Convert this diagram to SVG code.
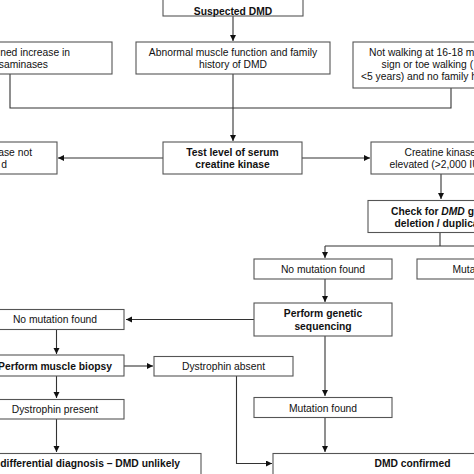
<svg xmlns="http://www.w3.org/2000/svg" width="474" height="474" viewBox="0 0 474 474">
<defs>
<marker id="ah" markerUnits="userSpaceOnUse" markerWidth="7" markerHeight="7" refX="6" refY="3" orient="auto">
<path d="M0,0 L6,3 L0,6 z" fill="#111"/>
</marker>
<style>
.box{fill:#fff;stroke:#555;stroke-width:1.1}
.t{font-family:"Liberation Sans",Arial,sans-serif;font-size:10.3px;fill:#111}
.b{font-weight:bold}
.c{text-anchor:middle}
.e{text-anchor:end}
.ln{fill:none;stroke:#333;stroke-width:1.1}
.ar{fill:none;stroke:#333;stroke-width:1.1;marker-end:url(#ah)}
</style>
</defs>
<rect width="474" height="474" fill="#fff"/>
<g id="connectors">
<path class="ar" d="M233,16 V41"/>
<path class="ln" d="M10,74 V108 H451 V88"/>
<path class="ar" d="M233,74 V141"/>
<path class="ar" d="M163,158 H58"/>
<path class="ar" d="M302,158 H370"/>
<path class="ar" d="M441,174 V199"/>
<path class="ln" d="M440,232 V246"/>
<path class="ln" d="M325,246 H474"/>
<path class="ar" d="M325,246 V258"/>
<path class="ar" d="M325,279 V302"/>
<path class="ar" d="M254,319.5 H126"/>
<path class="ar" d="M56.5,329 V354"/>
<path class="ar" d="M124,366 H153"/>
<path class="ar" d="M56.5,376 V398"/>
<path class="ar" d="M56.5,419 V452"/>
<path class="ar" d="M236.5,376 V463.5 H272"/>
<path class="ar" d="M325,336 V396"/>
<path class="ar" d="M325,417 V452"/>
</g>
<g id="suspected">
<rect class="box" x="163" y="-6" width="140" height="22"/>
<text class="t b c" x="233" y="14.5">Suspected DMD</text>
</g>
<g id="transaminases">
<rect class="box" x="-82" y="42" width="194" height="32"/>
<text class="t e" x="70" y="55.5">ned increase in</text>
<text class="t e" x="48" y="67.5">saminases</text>
</g>
<g id="abnormal">
<rect class="box" x="136" y="42" width="194" height="32"/>
<text class="t c" x="233" y="55.5">Abnormal muscle function and family</text>
<text class="t c" x="233" y="67.5">history of DMD</text>
</g>
<g id="notwalking">
<rect class="box" x="353" y="42" width="194" height="46"/>
<text class="t" x="369" y="55.5">Not walking at 16-18 m</text>
<text class="t" x="381.5" y="67.5">sign or toe walking (</text>
<text class="t" x="361" y="80">&lt;5 years) and no family h</text>
</g>
<g id="cknot">
<rect class="box" x="-90" y="142" width="147" height="32"/>
<text class="t e" x="32" y="156">ase not</text>
<text class="t e" x="7" y="167.5">d</text>
</g>
<g id="testck">
<rect class="box" x="163" y="142" width="139" height="32"/>
<text class="t b c" x="232.5" y="156">Test level of serum</text>
<text class="t b c" x="232.5" y="167.5">creatine kinase</text>
</g>
<g id="ckelev">
<rect class="box" x="371" y="142" width="147" height="32"/>
<text class="t" x="404.5" y="156">Creatine kinase</text>
<text class="t" x="389.5" y="167.5">elevated (&gt;2,000 IU</text>
</g>
<g id="checkdel">
<rect class="box" x="368" y="200.5" width="144" height="32"/>
<text class="t b" x="391" y="214.5">Check for <tspan font-style="italic">DMD</tspan> g</text>
<text class="t b" x="394.5" y="226.5">deletion / duplica</text>
</g>
<g id="nomut1">
<rect class="box" x="254" y="259" width="138" height="20"/>
<text class="t c" x="323" y="272.5">No mutation found</text>
</g>
<g id="mut1">
<rect class="box" x="417" y="259" width="138" height="20"/>
<text class="t" x="452.5" y="272.5">Muta</text>
</g>
<g id="genseq">
<rect class="box" x="254" y="303" width="138" height="33"/>
<text class="t b c" x="323" y="317">Perform genetic</text>
<text class="t b c" x="323" y="330">sequencing</text>
</g>
<g id="nomut2">
<rect class="box" x="-14" y="309.5" width="138" height="20"/>
<text class="t c" x="55" y="323">No mutation found</text>
</g>
<g id="biopsy">
<rect class="box" x="-14" y="355" width="138" height="21"/>
<text class="t b c" x="55" y="369.5">Perform muscle biopsy</text>
</g>
<g id="absent">
<rect class="box" x="154" y="356.5" width="139" height="19.5"/>
<text class="t c" x="223.5" y="369.5">Dystrophin absent</text>
</g>
<g id="present">
<rect class="box" x="-14" y="399.5" width="138" height="19.5"/>
<text class="t c" x="55" y="413">Dystrophin present</text>
</g>
<g id="mutfound">
<rect class="box" x="254" y="397.5" width="138" height="20"/>
<text class="t c" x="323" y="411.5">Mutation found</text>
</g>
<g id="diffdiag">
<rect class="box" x="-90" y="453.5" width="291" height="30"/>
<text class="t b e" x="180" y="467">differential diagnosis – DMD unlikely</text>
</g>
<g id="confirmed">
<rect class="box" x="273" y="453.5" width="280" height="30"/>
<text class="t b c" x="412.5" y="467">DMD confirmed</text>
</g>
</svg>
